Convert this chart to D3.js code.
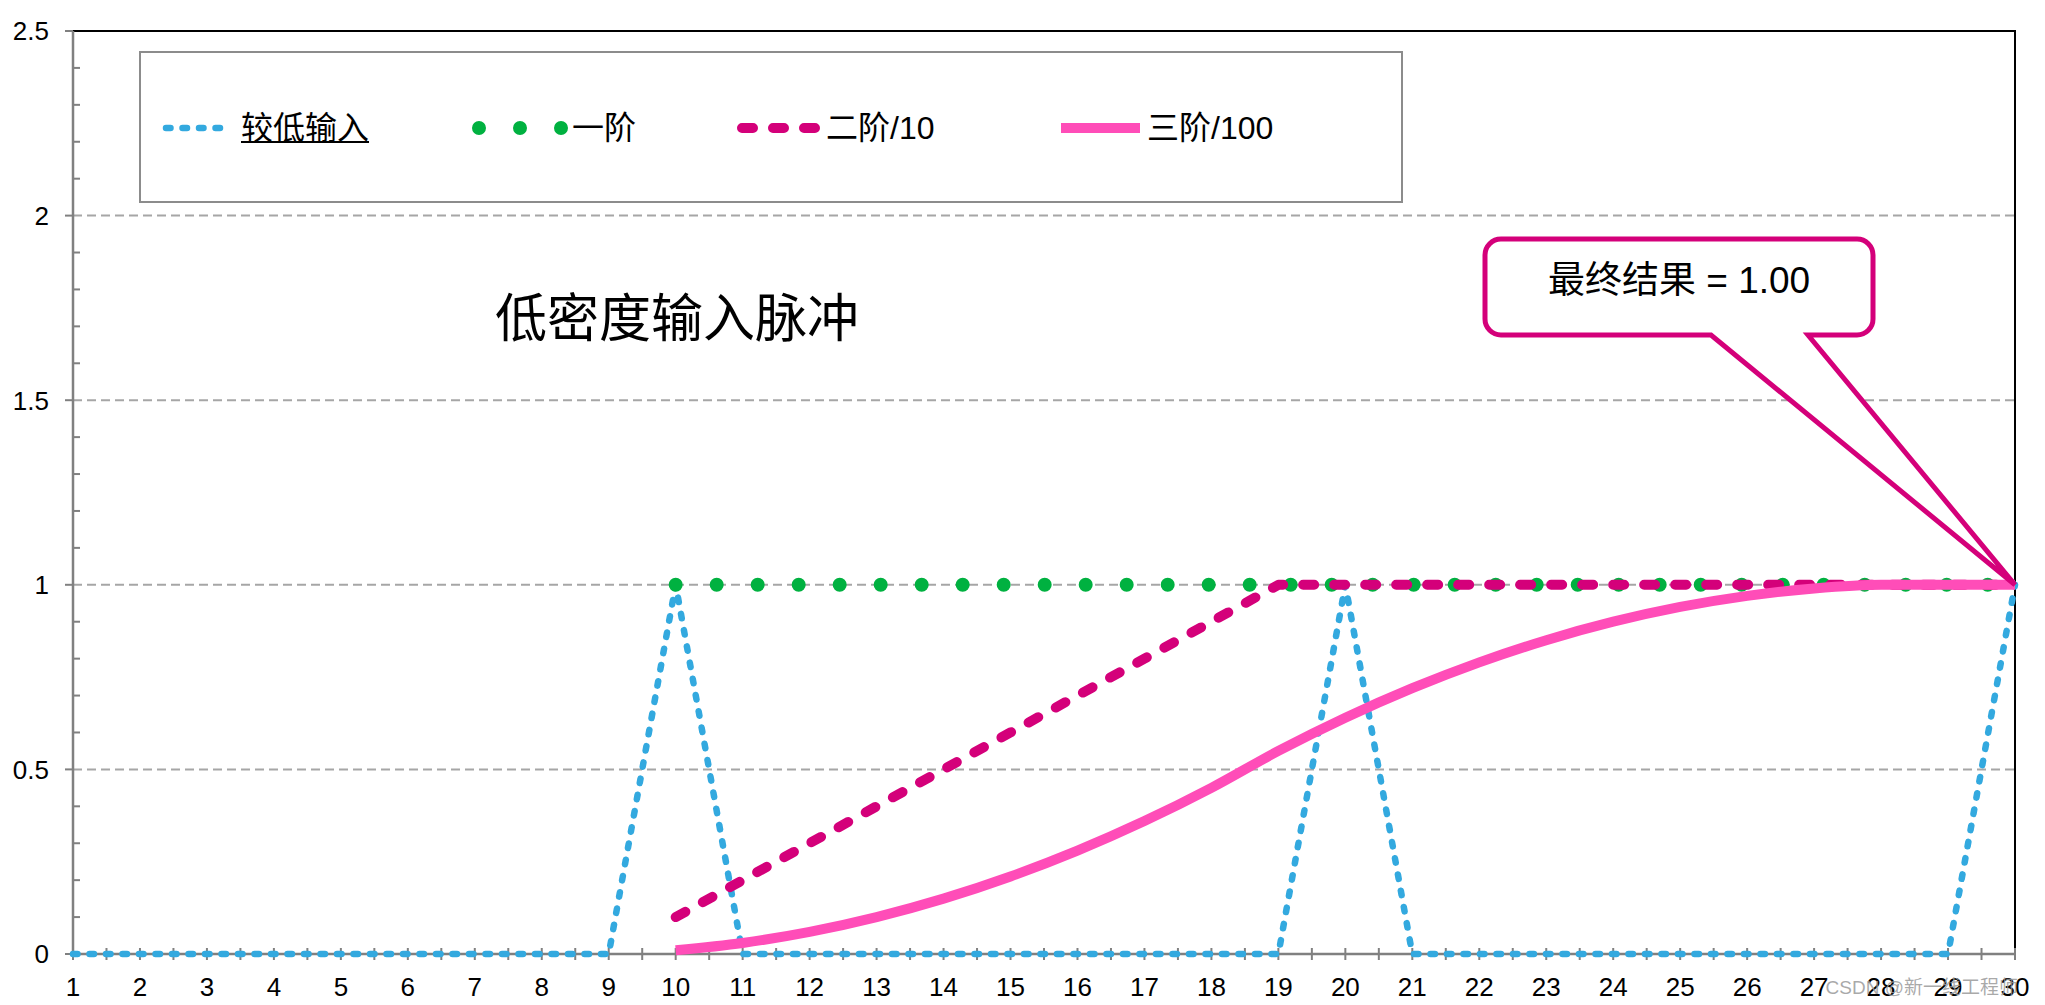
<!DOCTYPE html>
<html>
<head>
<meta charset="utf-8">
<script src="https://cdn.jsdelivr.net/npm/d3@7"></script>
<style>
  html, body { margin: 0; padding: 0; background: #fff; }
  svg { display: block; }
  text { font-family: "Liberation Sans", Arial, "Noto Sans CJK SC", sans-serif; }
</style>
</head>
<body>
<svg id="chart" width="2045" height="1005"></svg>
<script>
// ── data ──────────────────────────────────────────────
const steps   = d3.range(1, 31);   // categories 1..30
const inputLow = [0,0,0,0,0,0,0,0,0,1, 0,0,0,0,0,0,0,0,0,1, 0,0,0,0,0,0,0,0,0,1];
const order1   = [null,null,null,null,null,null,null,null,null,1, 1,1,1,1,1,1,1,1,1,1, 1,1,1,1,1,1,1,1,1,1];
const order2   = [null,null,null,null,null,null,null,null,null,0.1, 0.2,0.3,0.4,0.5,0.6,0.7,0.8,0.9,1.0,1.0, 1,1,1,1,1,1,1,1,1,1];
const order3   = [null,null,null,null,null,null,null,null,null,0.01, 0.03,0.06,0.10,0.15,0.21,0.28,0.36,0.45,0.55,0.64,
                  0.72,0.79,0.85,0.90,0.94,0.97,0.99,1.00,1.00,1.00];
const yTicks   = [0, 0.5, 1, 1.5, 2, 2.5];
const yGrid    = [0.5, 1, 1.5, 2];
const seriesNames = ['较低输入', '一阶', '二阶/10', '三阶/100'];
const title    = '低密度输入脉冲';
const noteText = '最终结果 = 1.00';
const finalX = 30, finalY = 1.00;

// ── styles ────────────────────────────────────────────
const C_BLUE = '#33a9df', C_GREEN = '#00b140', C_MAG = '#d4007a', C_PINK = '#ff4db8';
const styles = [
  { color: C_BLUE,  width: 6.5, dash: '4.5 12', cap: 'round' },
  { color: C_GREEN, width: 14,  dash: '0 41',   cap: 'round' },
  { color: C_MAG,   width: 10,  dash: '11 20',  cap: 'round' },
  { color: C_PINK,  width: 10,  dash: null,     cap: 'butt'  }
];

const svg = d3.select('#chart');
const x = d3.scaleLinear().domain([1, 30]).range([73, 2015]);
const y = d3.scaleLinear().domain([0, 2.5]).range([954, 31]);

// ── grid ──────────────────────────────────────────────
svg.append('g').selectAll('line').data(yGrid).join('line')
  .attr('x1', x(1)).attr('x2', x(30))
  .attr('y1', d => y(d)).attr('y2', d => y(d))
  .attr('stroke', '#a6a6a6').attr('stroke-width', 2)
  .attr('stroke-dasharray', '9 5');

// plot border (top and right)
svg.append('path')
  .attr('d', `M${x(1)},${y(2.5)}H${x(30)}V${y(0)}`)
  .attr('fill', 'none').attr('stroke', '#000').attr('stroke-width', 2);

// ── y axis ────────────────────────────────────────────
const yAx = svg.append('g');
yAx.append('line')
  .attr('x1', x(1)).attr('x2', x(1)).attr('y1', y(0)).attr('y2', y(2.5))
  .attr('stroke', '#808080').attr('stroke-width', 2.5);
const minor = d3.range(0, 26).map(i => i / 10).filter(v => Math.round(v * 10) % 5 !== 0);
yAx.selectAll('.minor').data(minor).join('line')
  .attr('class', 'minor')
  .attr('x1', x(1)).attr('x2', x(1) + 7)
  .attr('y1', d => y(d)).attr('y2', d => y(d))
  .attr('stroke', '#808080').attr('stroke-width', 2);
yAx.selectAll('.major').data(yTicks).join('line')
  .attr('class', 'major')
  .attr('x1', x(1) - 8).attr('x2', x(1))
  .attr('y1', d => y(d)).attr('y2', d => y(d))
  .attr('stroke', '#808080').attr('stroke-width', 2);
yAx.selectAll('text').data(yTicks).join('text')
  .attr('x', 49).attr('y', d => y(d)).attr('dy', '0.36em')
  .attr('text-anchor', 'end').attr('font-size', 26)
  .text(d => d3.format('')(d));

// ── x axis ────────────────────────────────────────────
const xAx = svg.append('g');
xAx.append('line')
  .attr('x1', x(1)).attr('x2', x(30)).attr('y1', y(0)).attr('y2', y(0))
  .attr('stroke', '#808080').attr('stroke-width', 2.5);
xAx.selectAll('.tick').data(d3.range(1, 30.01, 0.5)).join('line')
  .attr('class', 'tick')
  .attr('x1', d => x(d)).attr('x2', d => x(d))
  .attr('y1', y(0) - 6).attr('y2', y(0) + 6)
  .attr('stroke', '#808080').attr('stroke-width', 2);
xAx.selectAll('text').data(steps).join('text')
  .attr('x', d => x(d)).attr('y', 996)
  .attr('text-anchor', 'middle').attr('font-size', 26)
  .text(d => d);

// ── series ────────────────────────────────────────────
const allSeries = [inputLow, order1, order2, order3];
allSeries.forEach((vals, i) => {
  const st = styles[i];
  const line = d3.line()
    .defined(d => d[1] !== null)
    .x(d => x(d[0])).y(d => y(d[1]))
    .curve(i === 3 ? d3.curveMonotoneX : d3.curveLinear);
  svg.append('path')
    .datum(steps.map((s, k) => [s, vals[k]]))
    .attr('d', line)
    .attr('fill', 'none')
    .attr('stroke', st.color)
    .attr('stroke-width', st.width)
    .attr('stroke-linecap', st.cap)
    .attr('stroke-linejoin', 'round')
    .attr('stroke-dasharray', st.dash);
});

// ── legend ────────────────────────────────────────────
const lg = svg.append('g');
lg.append('rect')
  .attr('x', 140).attr('y', 52).attr('width', 1262).attr('height', 150)
  .attr('fill', '#fff').attr('stroke', '#8c8c8c').attr('stroke-width', 2);
const legendItems = [
  { x0: 166, x1: 231, tx: 241 },
  { x0: 479, x1: 562, tx: 572 },
  { x0: 742, x1: 816, tx: 826 },
  { x0: 1061, x1: 1140, tx: 1147 }
];
const LY = 128;
legendItems.forEach((it, i) => {
  const st = styles[i];
  lg.append('line')
    .attr('x1', it.x0).attr('x2', it.x1).attr('y1', LY).attr('y2', LY)
    .attr('stroke', st.color).attr('stroke-width', st.width)
    .attr('stroke-linecap', st.cap)
    .attr('stroke-dasharray', st.dash);
  const t = lg.append('text')
    .attr('x', it.tx).attr('y', LY + 11)
    .attr('font-size', 32)
    .text(seriesNames[i]);
  if (i === 0) {
    const w = t.node().getComputedTextLength();
    lg.append('line')
      .attr('x1', it.tx).attr('x2', it.tx + w)
      .attr('y1', LY + 14).attr('y2', LY + 14)
      .attr('stroke', '#000').attr('stroke-width', 2);
  }
});

// ── title ─────────────────────────────────────────────
svg.append('text')
  .attr('x', 495).attr('y', 337)
  .attr('font-size', 52)
  .text(title);

// ── callout ───────────────────────────────────────────
const bx0 = 1485, bx1 = 1873, by0 = 239, by1 = 335, r = 16;
const px0 = 1711, px1 = 1808;
const tx = x(finalX), ty = y(finalY);
const calloutPath = [
  `M${bx0 + r},${by0}`,
  `H${bx1 - r}`, `A${r},${r} 0 0 1 ${bx1},${by0 + r}`,
  `V${by1 - r}`, `A${r},${r} 0 0 1 ${bx1 - r},${by1}`,
  `H${px1}`, `L${tx},${ty}`, `L${px0},${by1}`,
  `H${bx0 + r}`, `A${r},${r} 0 0 1 ${bx0},${by1 - r}`,
  `V${by0 + r}`, `A${r},${r} 0 0 1 ${bx0 + r},${by0}`, 'Z'
].join('');
svg.append('path')
  .attr('d', calloutPath)
  .attr('fill', '#fff')
  .attr('stroke', C_MAG).attr('stroke-width', 5)
  .attr('stroke-linejoin', 'miter');
svg.append('text')
  .attr('x', 1548).attr('y', 293)
  .attr('font-size', 37)
  .text(noteText);

// ── watermark ─────────────────────────────────────────
svg.append('text')
  .attr('x', 2018).attr('y', 994)
  .attr('text-anchor', 'end')
  .attr('font-size', 19)
  .attr('fill', '#9a9a9a').attr('fill-opacity', 0.85)
  .text('CSDN @新一线工程师');
</script>
</body>
</html>
